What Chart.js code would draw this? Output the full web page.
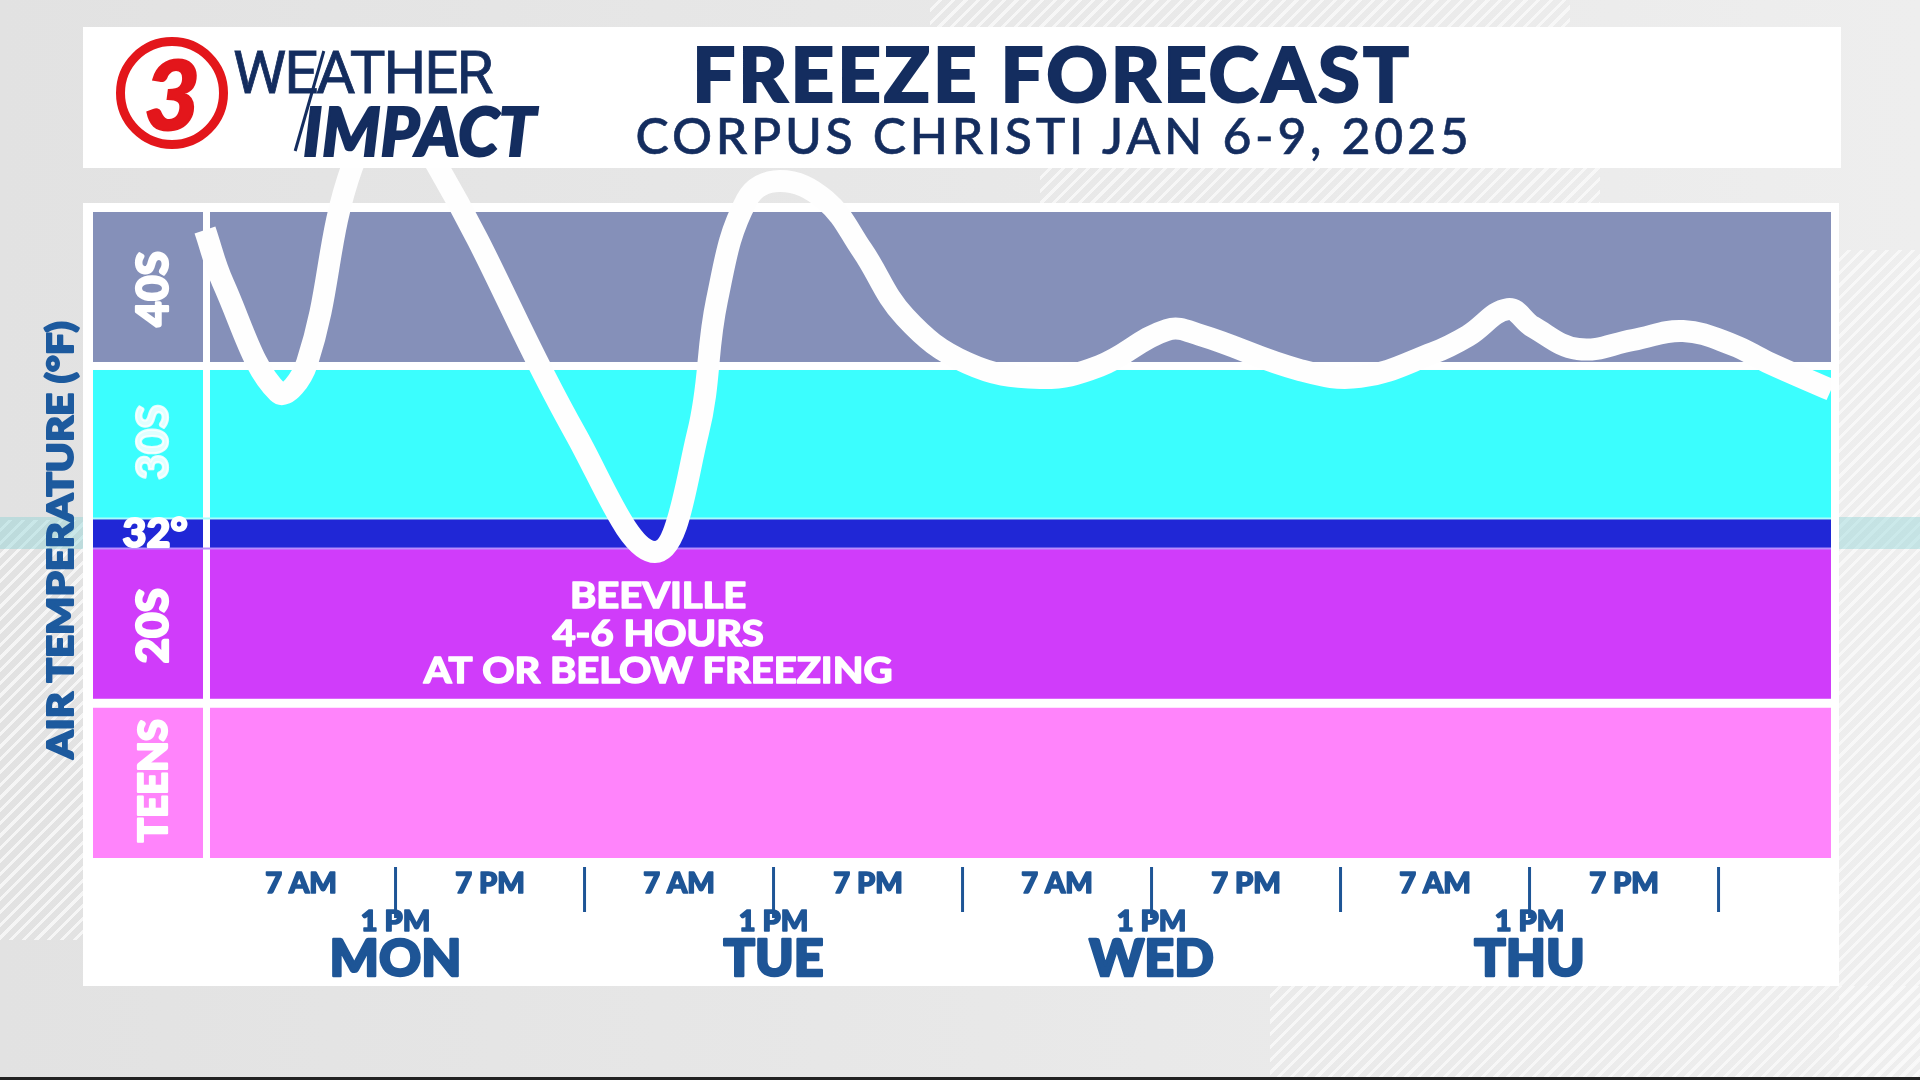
<!DOCTYPE html>
<html lang="en">
<head>
  <meta charset="UTF-8">
  <title>Freeze Forecast</title>
  <script src="https://cdn.jsdelivr.net/npm/chart.js"></script>
  <style>
    body {
      margin: 0;
      width: 1920px;
      height: 1080px;
      overflow: hidden;
      position: relative;
      font-family: 'Lato', 'Open Sans', sans-serif;
      background: linear-gradient(to right, #e2e2e2, #e9e9e9 60%, #eeeeee);
    }
    .hatch {
      position: absolute;
      background: repeating-linear-gradient(135deg, rgba(255,255,255,0) 0 6px, rgba(250,250,250,0.8) 6px 9px);
    }
    .teal-strip {
      position: absolute;
      left: 0; top: 517px; width: 1920px; height: 32px;
      background: rgba(120, 205, 210, 0.35);
    }
    .frame {
      position: absolute;
      left: 83px; top: 203px; width: 1756px; height: 783px;
      background: #fff;
    }
    #chartBox {
      position: absolute;
      left: 0; top: 0; width: 1920px; height: 1080px;
    }
    .header {
      position: absolute;
      left: 83px; top: 27px; width: 1758px; height: 141px;
      background: #fff;
      z-index: 5;
    }
    .title {
      position: absolute;
      left: 0; width: 1938px; top: 6px;
      text-align: center;
      font-weight: 900;
      font-size: 76px;
      line-height: 80px;
      color: #142d5f;
      letter-spacing: 3px;
      -webkit-text-stroke: 2px #142d5f;
    }
    .subtitle {
      position: absolute;
      left: 0; width: 1942px; top: 80px;
      text-align: center;
      font-weight: 500;
      font-size: 50px;
      line-height: 56px;
      color: #142d5f;
      letter-spacing: 3.7px;
      -webkit-text-stroke: 0.6px #142d5f;
    }
    .logo-ring {
      position: absolute;
      left: 33px; top: 10px; width: 94px; height: 94px;
      border: 9px solid #e3161b;
      border-radius: 50%;
      text-align: center;
      font-weight: 900;
      font-style: italic;
      font-size: 96px;
      line-height: 94px;
      color: #e3161b;
      -webkit-text-stroke: 2px #e3161b;
    }
    .logo-weather {
      position: absolute;
      left: 150px; top: 14px;
      font-family: 'Liberation Sans Narrow', 'Roboto', sans-serif;
      font-size: 60px;
      line-height: 64px;
      color: #142d5f;
      letter-spacing: -2px;
      -webkit-text-stroke: 0.8px #142d5f;
    }
    .logo-impact {
      position: absolute;
      left: 220px; top: 70px;
      font-weight: 900;
      font-style: italic;
      font-size: 66px;
      line-height: 68px;
      color: #142d5f;
      letter-spacing: 0px;
      -webkit-text-stroke: 2px #142d5f;
    }
    .logo-slash {
      position: absolute;
      left: 225px; top: 22px; width: 3px; height: 104px;
      background: #142d5f;
      transform: rotate(16deg);
    }
    .bottom-line {
      position: absolute;
      left: 0; top: 1077px; width: 1920px; height: 3px;
      background: #222;
    }
  </style>
</head>
<body>
  <div class="hatch" style="left:930px; top:0; width:640px; height:27px;"></div>
  <div class="hatch" style="left:1040px; top:168px; width:560px; height:35px;"></div>
  <div class="hatch" style="left:1839px; top:250px; width:81px; height:830px;"></div>
  <div class="hatch" style="left:0; top:520px; width:83px; height:420px;"></div>
  <div class="hatch" style="left:1270px; top:986px; width:650px; height:91px;"></div>
  <div class="teal-strip"></div>
  <div class="frame"></div>

  <div id="chartBox"><canvas id="chart" width="1920" height="1080"></canvas></div>

  <div class="header">
    <div class="logo-ring">3</div>
    <div class="logo-weather">WEATHER</div>
    <div class="logo-slash"></div>
    <div class="logo-impact">IMPACT</div>
    <div class="title">FREEZE FORECAST</div>
    <div class="subtitle">CORPUS CHRISTI JAN 6-9, 2025</div>
  </div>
  <div class="bottom-line"></div>

  <script>
    // hours counted from Monday midnight (axis spacing follows the graphic)
    const hours = [0.9, 2.05, 5.54, 7.38, 10.24, 12.84, 15.7, 24.4, 29.48, 32.2, 33.41,
                   35.3, 37.41, 40.27, 42.62, 45.35, 49.29, 53.92, 57.7, 61.98, 64.08, 70.43, 74.24,
                   78.87, 81.08, 83.63, 85.22, 88.08, 91.57, 94.75, 97.92, 100.08, 104.14];
    const temps = [51.8, 48.27, 41.0, 42.95, 56.0, 59.1, 56.0, 38.29, 30.37, 38.29, 47.14,
                   53.8, 55.06, 53.8, 50.47, 46.01, 42.95, 41.95, 42.75, 45.15, 44.81, 42.48, 42.02,
                   43.61, 44.75, 46.54, 45.35, 43.88, 44.48, 45.08, 44.15, 43.02, 41.15];

    const bandLabels = ['TEENS', '20S', '32°', '30S', '40S'];
    const bandLow = [10, 20.3, 30.6, 32.6, 42.75];
    const bandHigh = [20.3, 30.6, 32.6, 42.75, 53];

    const tickHours = [7, 13, 19, 31, 37, 43, 55, 61, 67, 79, 85, 91];
    const tickLabels = ['7 AM', '1 PM', '7 PM', '7 AM', '1 PM', '7 PM', '7 AM', '1 PM', '7 PM', '7 AM', '1 PM', '7 PM'];
    const dayHours = [13, 37, 61, 85];
    const dayLabels = ['MON', 'TUE', 'WED', 'THU'];
    const dividerHours = [25, 49, 73, 97];

    const noteLines = ['BEEVILLE', '4-6 HOURS', 'AT OR BELOW FREEZING'];
    const noteHour = 29.67;

    const bandColors = ['#ff84fb', '#d03cfa', '#2027d6', '#3bfefe', '#8590b9'];
    const sepStyles = [
      { w: 9, c: '#ffffff' },
      { w: 2, c: '#b98cff' },
      { w: 2, c: '#a8fdfd' },
      { w: 8, c: '#ffffff' }
    ];
    const axisBlue = '#1e5596';

    // filled text with an outline of the same colour, optionally stretched sideways
    function heavyText(ctx, text, x, y, stroke, sx) {
      ctx.save();
      ctx.translate(x, y);
      ctx.scale(sx || 1, 1);
      ctx.fillText(text, 0, 0);
      if (stroke) {
        ctx.lineWidth = stroke;
        ctx.lineJoin = 'round';
        ctx.strokeStyle = ctx.fillStyle;
        ctx.strokeText(text, 0, 0);
      }
      ctx.restore();
    }

    const bandsPlugin = {
      id: 'bands',
      beforeDatasetsDraw(chart) {
        const { ctx, chartArea: a, scales: { y } } = chart;
        const colL = a.left - 117, colR = a.left - 7;
        ctx.save();
        bandLabels.forEach((lab, i) => {
          const top = y.getPixelForValue(bandHigh[i]);
          const bot = y.getPixelForValue(bandLow[i]);
          ctx.fillStyle = bandColors[i];
          ctx.fillRect(a.left, top, a.right - a.left, bot - top);
          ctx.fillRect(colL, top, colR - colL, bot - top);
        });
        sepStyles.forEach((s, i) => {
          const py = y.getPixelForValue(bandHigh[i]);
          ctx.fillStyle = s.c;
          ctx.fillRect(colL, py - s.w / 2, a.right - colL, s.w);
        });

        // labels in the left column
        ctx.fillStyle = '#ffffff';
        ctx.textAlign = 'center';
        ctx.textBaseline = 'middle';
        const cx = (colL + colR) / 2 + 4;
        bandLabels.forEach((lab, i) => {
          const cy = y.getPixelForValue((bandLow[i] + bandHigh[i]) / 2);
          if (lab === '32°') {
            ctx.font = '900 39px Lato, sans-serif';
            heavyText(ctx, lab, cx + 3, cy + 1, 2, 1.06);
            return;
          }
          ctx.save();
          ctx.translate(cx, cy);
          ctx.rotate(-Math.PI / 2);
          ctx.font = lab === 'TEENS' ? '900 40px Lato, sans-serif' : '900 44px Lato, sans-serif';
          ctx.globalAlpha = lab === '30S' ? 0.85 : 1;
          heavyText(ctx, lab, 0, 2, 2.2, 1);
          ctx.restore();
        });
        ctx.restore();
      },
      afterDatasetsDraw(chart) {
        const { ctx, chartArea: a, scales: { x, y } } = chart;
        ctx.save();
        ctx.textAlign = 'center';
        ctx.textBaseline = 'middle';

        // note under the Tuesday low
        const nx = x.getPixelForValue(noteHour);
        const ny = y.getPixelForValue((bandLow[1] + bandHigh[1]) / 2) + 8;
        ctx.fillStyle = '#ffffff';
        ctx.font = '700 36px Lato, sans-serif';
        noteLines.forEach((t, i) => {
          heavyText(ctx, t, nx, ny + (i - 1) * 37.5, 1.6, 1.11);
        });

        // x axis
        ctx.strokeStyle = axisBlue;
        ctx.lineWidth = 3;
        dividerHours.forEach(h => {
          const px = x.getPixelForValue(h);
          ctx.beginPath();
          ctx.moveTo(px, a.bottom + 9);
          ctx.lineTo(px, a.bottom + 54);
          ctx.stroke();
        });
        dayHours.forEach(h => {
          const px = x.getPixelForValue(h);
          ctx.beginPath();
          ctx.moveTo(px, a.bottom + 9);
          ctx.lineTo(px, a.bottom + 60);
          ctx.stroke();
        });
        ctx.fillStyle = axisBlue;
        ctx.font = '900 29px Lato, sans-serif';
        tickHours.forEach((h, i) => {
          const isMid = tickLabels[i] === '1 PM';
          heavyText(ctx, tickLabels[i], x.getPixelForValue(h), a.bottom + (isMid ? 64 : 26), 1.6, 1);
        });
        ctx.font = '900 52px Lato, sans-serif';
        dayHours.forEach((h, i) => {
          heavyText(ctx, dayLabels[i], x.getPixelForValue(h), a.bottom + 101, 2.6, 1);
        });

        // y axis title
        ctx.save();
        ctx.translate(61, (a.top + a.bottom) / 2 + 5);
        ctx.rotate(-Math.PI / 2);
        ctx.fillStyle = '#1d5a9e';
        ctx.font = '900 36px Lato, sans-serif';
        heavyText(ctx, 'AIR TEMPERATURE (°F)', 0, 0, 2, 1.12);
        ctx.restore();

        ctx.restore();
      }
    };

    new Chart(document.getElementById('chart').getContext('2d'), {
      type: 'line',
      data: {
        datasets: [{
          label: 'Air temperature',
          data: hours.map((h, i) => ({ x: h, y: temps[i] })),
          borderColor: '#fefefe',
          borderWidth: 22,
          borderCapStyle: 'butt',
          borderJoinStyle: 'round',
          pointRadius: 0,
          tension: 0.4,
          capBezierPoints: false,
          clip: { left: false, top: false, right: 0, bottom: false }
        }]
      },
      options: {
        responsive: false,
        devicePixelRatio: 1,
        animation: false,
        layout: { padding: { left: 210, right: 89, top: 212, bottom: 222 } },
        plugins: { legend: { display: false }, tooltip: { enabled: false } },
        scales: {
          x: { type: 'linear', min: 1.22, max: 104.14, display: false },
          y: { min: 10, max: 53, display: false }
        }
      },
      plugins: [bandsPlugin]
    });
  </script>
</body>
</html>
